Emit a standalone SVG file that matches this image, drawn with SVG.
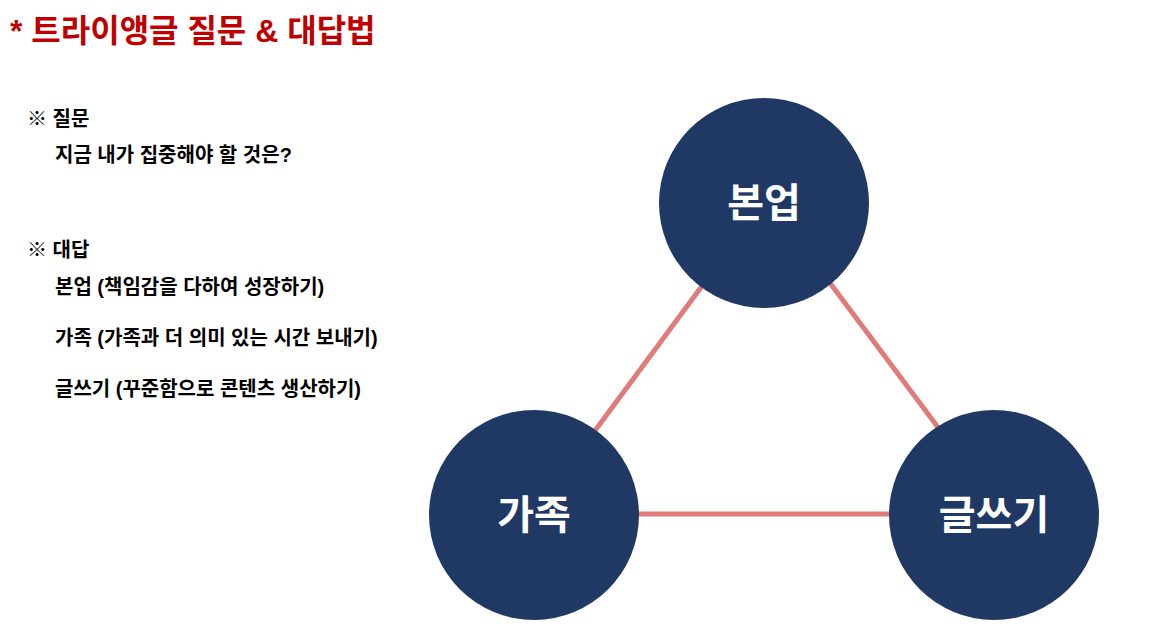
<svg xmlns="http://www.w3.org/2000/svg" width="1157" height="643" viewBox="0 0 1157 643">
<style>
text{font-family:"Liberation Sans","Noto Sans CJK KR",sans-serif;font-weight:bold}
.t{font-size:20px;fill:#000}
.c{fill:#203864}
.l{font-size:40px;fill:#fff;text-anchor:middle}
.e{stroke:#E07B7B;stroke-width:5;fill:none}
</style>
<rect width="1157" height="643" fill="#fff"/>
<text x="10" y="42" font-size="32" fill="#C00000">* 트라이앵글 질문 &amp; 대답법</text>
<text class="t" x="27" y="126">※ 질문</text>
<text class="t" x="55" y="162">지금 내가 집중해야 할 것은?</text>
<text class="t" x="27" y="257">※ 대답</text>
<text class="t" x="55" y="294">본업 (책임감을 다하여 성장하기)</text>
<text class="t" x="55" y="345">가족 (가족과 더 의미 있는 시간 보내기)</text>
<text class="t" x="55" y="396">글쓰기 (꾸준함으로 콘텐츠 생산하기)</text>
<g id="connectors">
<line class="e" x1="702" y1="286" x2="594" y2="432"/>
<line class="e" x1="830" y1="283" x2="940" y2="430"/>
<line class="e" x1="638" y1="514" x2="890" y2="514"/>
</g>
<g id="n1"><circle class="c" cx="764" cy="203" r="105"/><text class="l" x="764" y="217">본업</text></g>
<g id="n2"><circle class="c" cx="534" cy="515" r="105"/><text class="l" x="534" y="529">가족</text></g>
<g id="n3"><circle class="c" cx="994" cy="515" r="105"/><text class="l" x="994" y="529">글쓰기</text></g>
</svg>
